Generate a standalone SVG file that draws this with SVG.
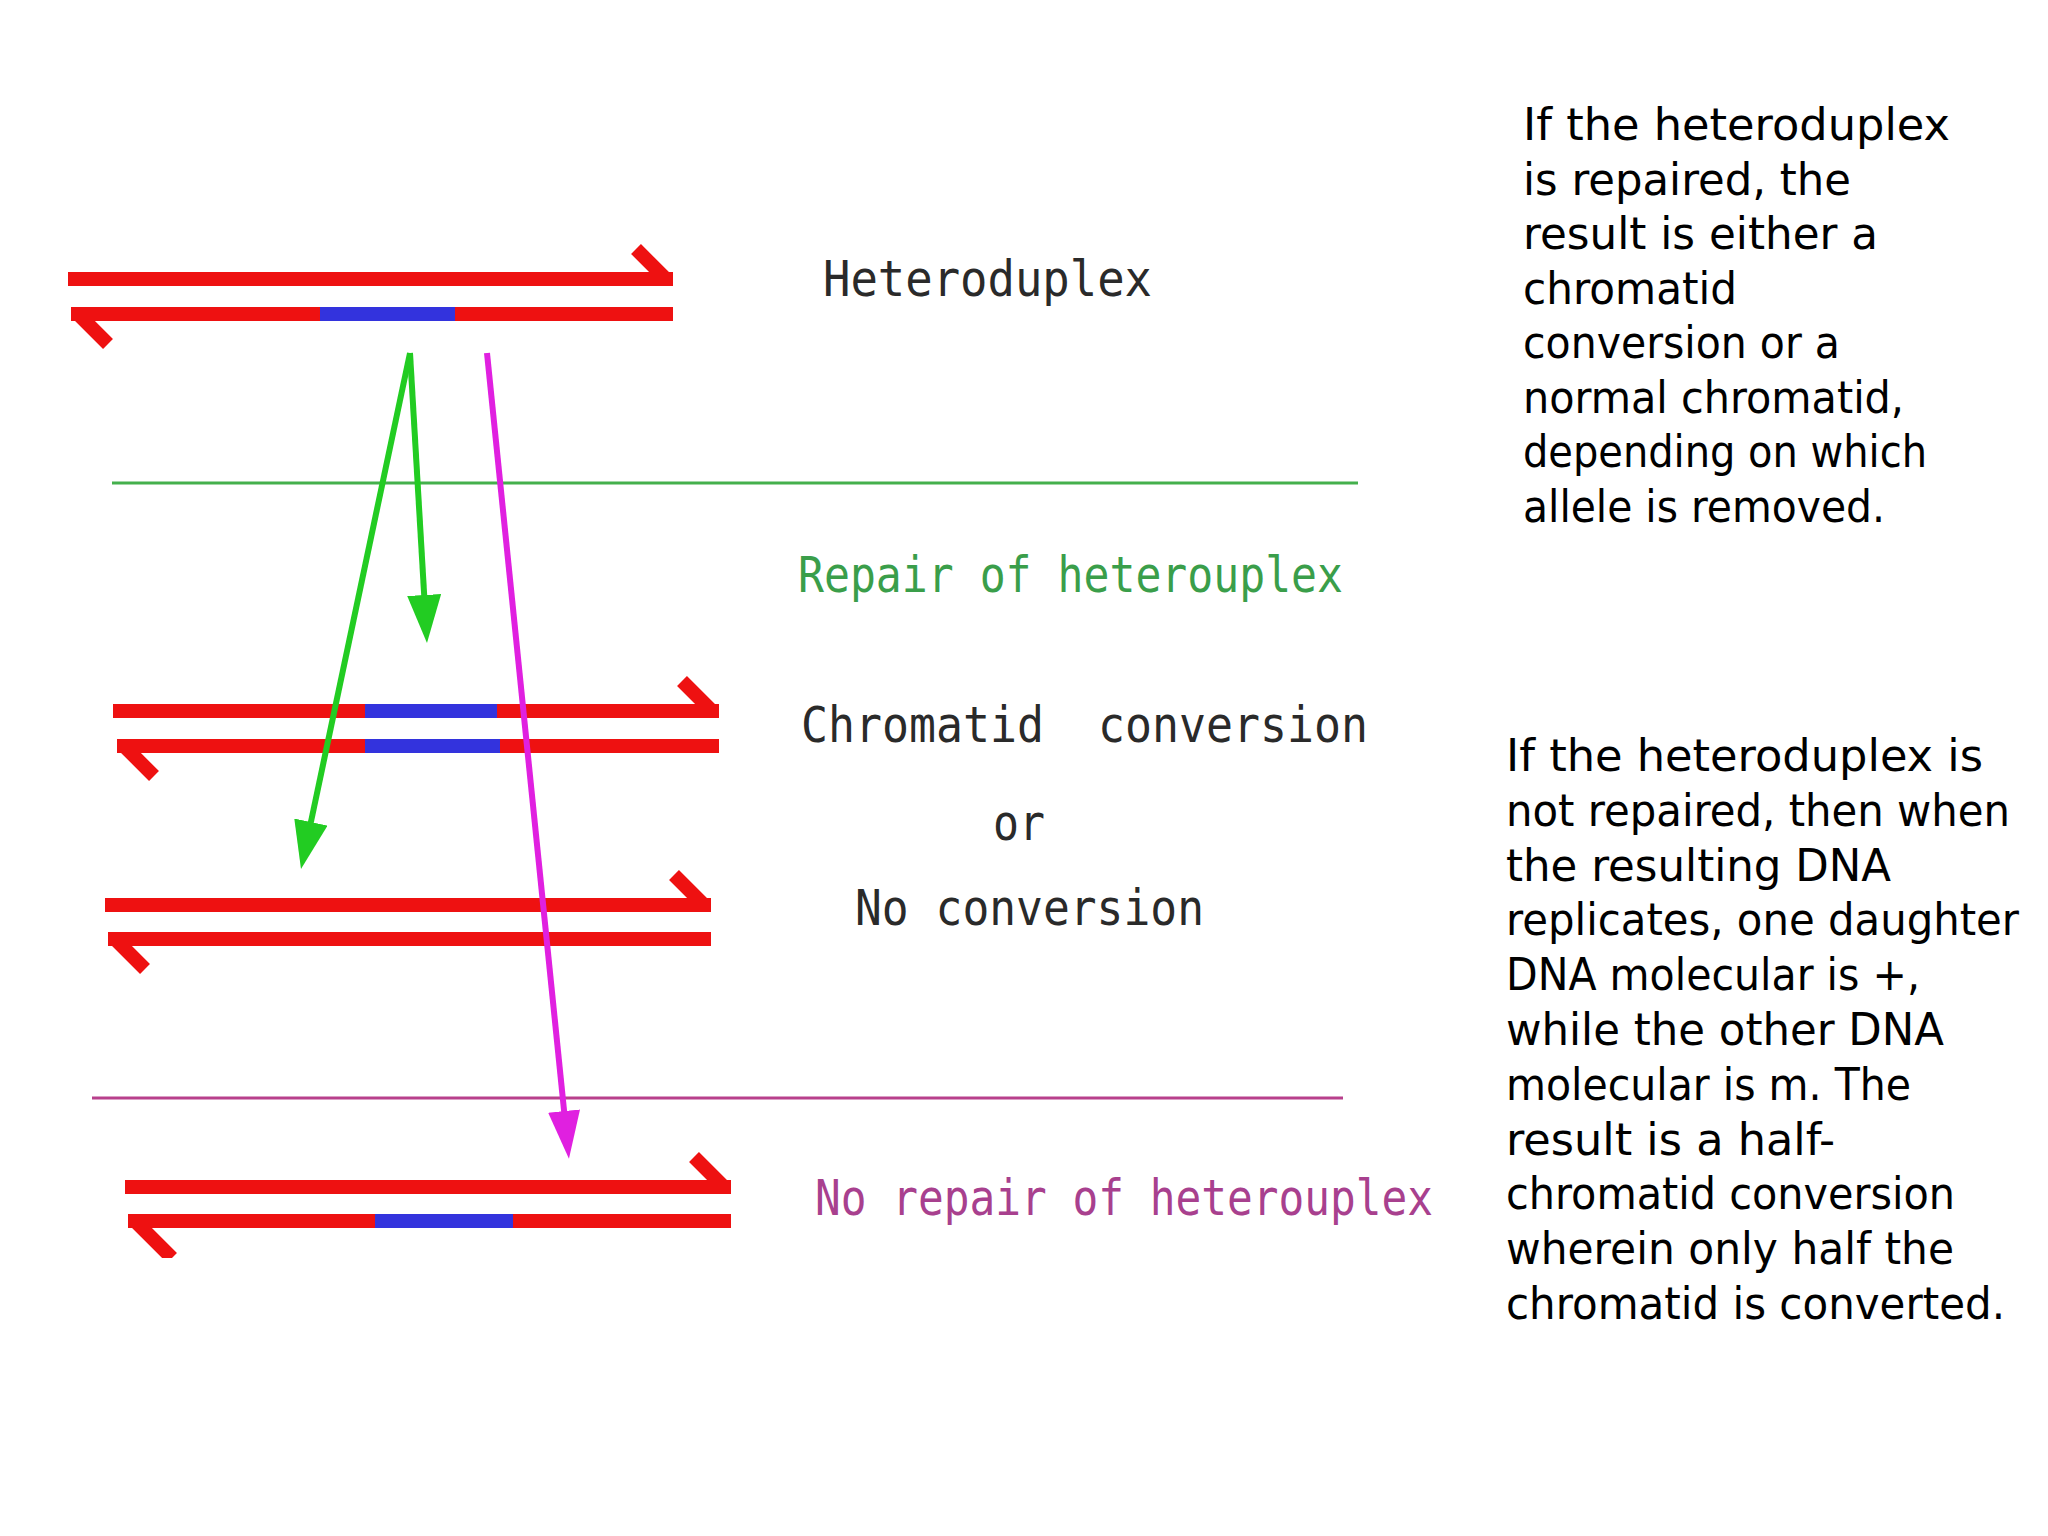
<svg xmlns="http://www.w3.org/2000/svg" width="2048" height="1536" viewBox="0 0 2048 1536">
<style>
.red{stroke:#ee1111;stroke-width:14;fill:none;stroke-linecap:butt}
.blue{stroke:#3333dd;stroke-width:14;fill:none}
.lbl{font-family:"DejaVu Sans Mono","Liberation Mono",monospace;font-size:50px;fill:#2a2a2a}
.note{font-family:"DejaVu Sans","Noto Sans",sans-serif;font-size:44px;fill:#000}
.garr{stroke:#22cc22;stroke-width:6;fill:none;marker-end:url(#gHead)}
.marr{stroke:#e020e0;stroke-width:6;fill:none;marker-end:url(#mHead)}
</style>
<defs>
<marker id="gHead" markerUnits="userSpaceOnUse" markerWidth="48" markerHeight="34" viewBox="0 0 48 34" refX="2" refY="17" orient="auto"><path d="M0,0 L48,17 L0,34 z" fill="#22cc22"/></marker>
<marker id="mHead" markerUnits="userSpaceOnUse" markerWidth="48" markerHeight="32" viewBox="0 0 48 32" refX="2" refY="16" orient="auto"><path d="M0,0 L48,16 L0,32 z" fill="#e020e0"/></marker>
<clipPath id="clipBottom"><rect x="0" y="0" width="2048" height="1258"/></clipPath>
</defs>
<rect width="2048" height="1536" fill="#fff"/>

<g id="dividers">
<line x1="112" y1="483" x2="1358" y2="483" stroke="#44b04c" stroke-width="3"/>
<line x1="92" y1="1098" x2="1343" y2="1098" stroke="#b8408c" stroke-width="3"/>
</g>

<g id="row1-heteroduplex">
<path class="red" d="M68 279 H673 M666 279 L636 249"/>
<path class="red" d="M71 314 H673 M78 314 L108 344"/>
<path class="blue" d="M320 314 H455"/>
</g>

<g id="row2-chromatid-conversion">
<path class="red" d="M113 711 H719 M712 711 L682 681"/>
<path class="blue" d="M365 711 H497"/>
<path class="red" d="M117 746 H719 M124 746 L154 776"/>
<path class="blue" d="M365 746 H500"/>
</g>

<g id="row3-no-conversion">
<path class="red" d="M105 905 H711 M704 905 L674 875"/>
<path class="red" d="M108 939 H711 M115 939 L145 969"/>
</g>

<g id="row4-no-repair" clip-path="url(#clipBottom)">
<path class="red" d="M125 1187 H731 M724 1187 L694 1157"/>
<path class="red" d="M128 1221 H731 M135 1221 L172 1258"/>
<path class="blue" d="M375 1221 H513"/>
</g>

<g id="connectors">
<line class="garr" x1="410" y1="353" x2="310.5" y2="824"/>
<line class="garr" x1="410" y1="353" x2="424.3" y2="597"/>
<line class="marr" x1="487" y1="353" x2="564.3" y2="1113"/>
</g>

<g id="labels">
<text id="lbl-heteroduplex" class="lbl" x="823" y="296" textLength="329" lengthAdjust="spacingAndGlyphs">Heteroduplex</text>
<text id="lbl-repair" class="lbl" x="798" y="592" textLength="545" lengthAdjust="spacingAndGlyphs" style="fill:#3a9e4a">Repair of heterouplex</text>
<text id="lbl-chromatid" class="lbl" x="801" y="742" textLength="567" lengthAdjust="spacingAndGlyphs" xml:space="preserve">Chromatid  conversion</text>
<text id="lbl-or" class="lbl" x="993" y="840" textLength="52" lengthAdjust="spacingAndGlyphs">or</text>
<text id="lbl-noconv" class="lbl" x="855" y="925" textLength="349" lengthAdjust="spacingAndGlyphs">No conversion</text>
<text id="lbl-norepair" class="lbl" x="815" y="1215" textLength="618" lengthAdjust="spacingAndGlyphs" style="fill:#a8408e">No repair of heterouplex</text>
</g>

<g id="note-repaired">
<text class="note" x="1523" y="140" textLength="427" lengthAdjust="spacingAndGlyphs">If the heteroduplex</text>
<text class="note" x="1523" y="195" textLength="328" lengthAdjust="spacingAndGlyphs">is repaired, the</text>
<text class="note" x="1523" y="249" textLength="355" lengthAdjust="spacingAndGlyphs">result is either a</text>
<text class="note" x="1523" y="304" textLength="214" lengthAdjust="spacingAndGlyphs">chromatid</text>
<text class="note" x="1523" y="358" textLength="317" lengthAdjust="spacingAndGlyphs">conversion or a</text>
<text class="note" x="1523" y="413" textLength="381" lengthAdjust="spacingAndGlyphs">normal chromatid,</text>
<text class="note" x="1523" y="467" textLength="404" lengthAdjust="spacingAndGlyphs">depending on which</text>
<text class="note" x="1523" y="522" textLength="362" lengthAdjust="spacingAndGlyphs">allele is removed.</text>
</g>

<g id="note-not-repaired">
<text class="note" x="1506" y="771" textLength="477" lengthAdjust="spacingAndGlyphs">If the heteroduplex is</text>
<text class="note" x="1506" y="826" textLength="504" lengthAdjust="spacingAndGlyphs">not repaired, then when</text>
<text class="note" x="1506" y="881" textLength="385" lengthAdjust="spacingAndGlyphs">the resulting DNA</text>
<text class="note" x="1506" y="935" textLength="513" lengthAdjust="spacingAndGlyphs">replicates, one daughter</text>
<text class="note" x="1506" y="990" textLength="414" lengthAdjust="spacingAndGlyphs">DNA molecular is +,</text>
<text class="note" x="1506" y="1045" textLength="438" lengthAdjust="spacingAndGlyphs">while the other DNA</text>
<text class="note" x="1506" y="1100" textLength="405" lengthAdjust="spacingAndGlyphs">molecular is m. The</text>
<text class="note" x="1506" y="1155" textLength="329" lengthAdjust="spacingAndGlyphs">result is a half-</text>
<text class="note" x="1506" y="1209" textLength="449" lengthAdjust="spacingAndGlyphs">chromatid conversion</text>
<text class="note" x="1506" y="1264" textLength="448" lengthAdjust="spacingAndGlyphs">wherein only half the</text>
<text class="note" x="1506" y="1319" textLength="499" lengthAdjust="spacingAndGlyphs">chromatid is converted.</text>
</g>
</svg>
